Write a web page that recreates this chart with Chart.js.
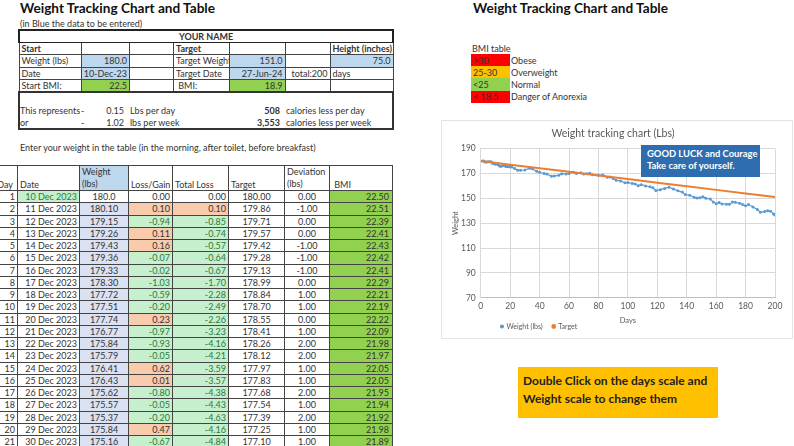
<!DOCTYPE html>
<html>
<head>
<meta charset="utf-8">
<script src="https://cdn.jsdelivr.net/npm/chart.js@4"></script>
<style>
  html, body { margin: 0; padding: 0; background: #fff; overflow: hidden; }
  body { width: 794px; height: 446px; position: relative; font-family: Lato, sans-serif; font-size: 9px; color: #333; filter: blur(0.3px); }
  .abs { position: absolute; white-space: nowrap; }
  .title { font-size: 13.6px; font-weight: 700; color: #111; }
  table { position: absolute; border-collapse: collapse; table-layout: fixed; font-size: 9px; }
  td { padding: 0 2px; border: 1px solid #444; overflow: hidden; white-space: nowrap; line-height: 11px; box-sizing: border-box; }
  .r { text-align: right; }
  .c { text-align: center; }
  .b { font-weight: 700; }
  .blue { background: #bdd7ee; }
  .lime { background: #92d050; }
  .pale { background: #d9e1f2; }
  .neg { background: #c6efce; color: #2b7a3b; }
  .pos { background: #f8cbad; }
  #chartBox { position: absolute; left: 441px; top: 120px; width: 352px; height: 219px; border: 1px solid #e4e4e4; box-sizing: border-box; }
  #note { position: absolute; left: 641px; top: 145px; width: 119px; height: 32px; background: #2e6eb0; color: #fff; font-weight: 700; font-size: 9.4px; line-height: 12.4px; padding: 3px 0 0 6px; box-sizing: border-box; white-space: nowrap; }
  #help { position: absolute; left: 518px; top: 367px; width: 200px; height: 51px; background: #ffc000; color: #222; font-weight: 700; font-size: 12px; line-height: 18px; padding: 5px 0 0 5px; box-sizing: border-box; white-space: nowrap; }
</style>
</head>
<body>
<div class="abs title" style="left:20px;top:0px">Weight Tracking Chart and Table</div>
<div class="abs" style="left:20px;top:18px">(in Blue the data to be entered)</div>

<table id="headTable" style="left:18px;top:29px;width:374px"></table>
<div class="abs" style="left:20px;top:105px">This represents</div>
<div class="abs" style="left:81px;top:105px">-</div>
<div class="abs r" style="left:100px;top:105px;width:24px">0.15</div>
<div class="abs" style="left:130px;top:105px">Lbs per day</div>
<div class="abs b" style="left:255px;top:105px;width:25px;text-align:right">508</div>
<div class="abs" style="left:286px;top:105px">calories less per day</div>
<div class="abs" style="left:20px;top:117px">or</div>
<div class="abs" style="left:81px;top:117px">-</div>
<div class="abs r" style="left:100px;top:117px;width:24px">1.02</div>
<div class="abs" style="left:130px;top:117px">lbs per week</div>
<div class="abs b" style="left:255px;top:117px;width:25px;text-align:right">3,553</div>
<div class="abs" style="left:286px;top:117px">calories less per week</div>
<div class="abs" style="left:20px;top:142px">Enter your weight in the table (in the morning, after toilet, before breakfast)</div>

<table id="dayTable" style="left:-22px;top:165px;width:414px"></table>

<div class="abs title" style="left:473px;top:0px">Weight Tracking Chart and Table</div>
<table id="bmiTable" style="left:471px;top:54px;width:140px"></table>
<div class="abs" style="left:472px;top:43px">BMI table</div>

<div id="chartBox"><canvas id="weightChart"></canvas></div>
<div id="note">GOOD LUCK and Courage<br>Take care of yourself.</div>
<div id="help">Double Click on the days scale and<br>Weight scale to change them</div>

<script>
  // table rows as read from the sheet
  const dayNumbers = [1,2,3,4,5,6,7,8,9,10,11,12,13,14,15,16,17,18,19,20,21];
  const dateLabels = ['10 Dec 2023','11 Dec 2023','12 Dec 2023','13 Dec 2023','14 Dec 2023','15 Dec 2023','16 Dec 2023','17 Dec 2023','18 Dec 2023','19 Dec 2023','20 Dec 2023','21 Dec 2023','22 Dec 2023','23 Dec 2023','24 Dec 2023','25 Dec 2023','26 Dec 2023','27 Dec 2023','28 Dec 2023','29 Dec 2023','30 Dec 2023'];
  const tableWeights = ['180.0','180.10','179.15','179.26','179.43','179.36','179.33','178.30','177.72','177.51','177.74','176.77','175.84','175.79','176.41','176.43','175.62','175.57','175.37','175.84','175.16'];
  const lossGain = ['0.00','0.10','-0.94','0.11','0.16','-0.07','-0.02','-1.03','-0.59','-0.20','0.23','-0.97','-0.93','-0.05','0.62','0.01','-0.80','-0.05','-0.20','0.47','-0.67'];
  const totalLoss = ['0.00','0.10','-0.85','-0.74','-0.57','-0.64','-0.67','-1.70','-2.28','-2.49','-2.26','-3.23','-4.16','-4.21','-3.59','-3.57','-4.38','-4.43','-4.63','-4.16','-4.84'];
  const tableTarget = ['180.00','179.86','179.71','179.57','179.42','179.28','179.13','178.99','178.84','178.70','178.55','178.41','178.26','178.12','177.97','177.83','177.68','177.54','177.39','177.25','177.10'];
  const deviation = ['0.00','-1.00','0.00','0.00','-1.00','-1.00','-1.00','0.00','1.00','1.00','0.00','1.00','2.00','2.00','1.00','1.00','2.00','1.00','2.00','1.00','1.00'];
  const bmiValues = ['22.50','22.51','22.39','22.41','22.43','22.42','22.41','22.29','22.21','22.19','22.22','22.09','21.98','21.97','22.05','22.05','21.95','21.94','21.92','21.98','21.89'];

  // chart series
  const weightDays = [1,2,3,4,5,6,7,8,9,10,11,12,13,14,15,16,17,18,19,20,21,23,25,27,30,33,35,38,40,43,45,48,50,53,55,58,60,63,65,68,70,72,74,76,80,83,86,88,90,92,95,98,100,103,105,107,109,112,115,117,119,122,125,128,131,134,137,139,142,145,147,149,151,153,156,158,160,162,164,167,169,171,173,176,178,180,182,185,188,190,193,195,197,199,200];
  const weightValues = [180.0,180.1,179.15,179.26,179.43,179.36,179.33,178.3,177.72,177.51,177.74,176.77,175.84,175.79,176.41,176.43,175.62,175.57,175.37,175.84,175.16,174,172.6,172.5,172.8,174.2,173.7,171.8,171,170,169.5,167.8,168,168.5,169.7,169.6,170,171,170,170.5,169.5,169.8,170.2,169,168.5,168.8,167,167.2,166,164.5,164,162.5,162.7,162,161.5,160.2,161,160,159.3,158.5,156.2,157,158,159,157.5,156,155,153,152.5,150.8,150.2,150.5,151.3,150,149.5,147,145.7,146.7,145.5,145.3,145.3,147,146.8,146,145,144,145,143,141,138.8,139.5,140,139.7,137.5,136.5];
  const targetDays = [0,20,40,60,80,100,120,140,160,180,200];
  const targetValues = [180,177.1,174.2,171.3,168.4,165.5,162.6,159.7,156.8,153.9,151];
  const xTicks = { min: 0, max: 200, step: 20 };
  const yTicks = { min: 70, max: 190, step: 20 };

  const headRows = [
    ['Start|b','','','Target|b','','','Height (inches)|b'],
    ['Weight (lbs)','180.0|r blue','','Target Weight','151.0|r blue','','75.0|r blue'],
    ['Date','10-Dec-23|r blue','','Target Date','27-Jun-24|r blue','total:200|r','days'],
    ['Start BMI:','22.5|r lime','','&nbsp;BMI:','18.9|r lime','','']
  ];
  const headWidths = [62,48.5,44,55.5,56,45,63];
  const bmiRows = [['>30','#ff0000','Obese'],['25-30','#ffc000','Overweight'],['<25','#92d050','Normal'],['< 18.5','#ff0000','Danger of Anorexia']];

  function cell(spec) {
    const [text, cls] = spec.split('|');
    return `<td class="${cls || ''}">${text}</td>`;
  }

  const headTable = document.getElementById('headTable');
  headTable.innerHTML = `
    <colgroup>${headWidths.map(w => `<col style="width:${w}px">`).join('')}</colgroup>
    <tr style="height:12.4px"><td colspan="7" class="c b" style="border-width:2px 2px 1px 2px;border-color:#222">YOUR NAME</td></tr>
    ${headRows.map(r => `<tr style="height:12.3px">${r.map(cell).join('')}</tr>`).join('')}
    <tr style="height:37.6px"><td colspan="7" style="border:2px solid #333"></td></tr>`;

  const dayTable = document.getElementById('dayTable');
  const dayWidths = [39,62,49,44,56,56,45,63];
  dayTable.innerHTML = `
    <colgroup>${dayWidths.map(w => `<col style="width:${w}px">`).join('')}</colgroup>
    <tr style="height:25px;vertical-align:bottom">
      <td class="r">Day&nbsp;</td><td>Date</td><td class="blue" style="line-height:12px">Weight<br>(lbs)</td><td>Loss/Gain</td><td>Total Loss</td><td>Target</td><td style="line-height:12px">Deviation<br>(lbs)</td><td>&nbsp;BMI</td>
    </tr>
    ${dayNumbers.map((d, i) => {
      const gainClass = v => parseFloat(v) < 0 ? 'neg' : (parseFloat(v) > 0 ? 'pos' : '');
      return `<tr style="height:12.25px">
        <td class="r">${d}</td>
        <td class="r ${i === 0 ? 'neg' : ''}">${dateLabels[i]}</td>
        <td class="c ${i === 0 ? '' : 'pale'}">${tableWeights[i]}</td>
        <td class="r ${gainClass(lossGain[i])}">${lossGain[i]}</td>
        <td class="r ${gainClass(totalLoss[i])}">${totalLoss[i]}</td>
        <td class="c">${tableTarget[i]}</td>
        <td class="c">${deviation[i]}</td>
        <td class="r lime" style="padding-right:3px">${bmiValues[i]}</td>
      </tr>`;
    }).join('')}`;

  const bmiTable = document.getElementById('bmiTable');
  bmiTable.innerHTML = `
    <colgroup><col style="width:39px"><col style="width:101px"></colgroup>
    ${bmiRows.map(r => `<tr style="height:12.2px"><td style="border:0;background:${r[1]}">${r[0].replace('<', '&lt;')}</td><td style="border:0;padding-left:1px">${r[2]}</td></tr>`).join('')}`;

  // the sheet's legend sits to the right of the chart's left edge
  const legendShift = {
    id: 'legendShift',
    afterLayout(chart) {
      chart.legend.left += 40;
      chart.legend.top += 2;
    }
  };

  new Chart(document.getElementById('weightChart'), {
    type: 'scatter',
    plugins: [legendShift],
    data: {
      datasets: [
        {
          label: 'Weight (lbs)',
          data: weightDays.map((d, i) => ({ x: d, y: weightValues[i] })),
          showLine: true,
          borderColor: '#5b9bd5',
          backgroundColor: '#5b9bd5',
          borderWidth: 1.2,
          pointRadius: 0.9,
          order: 2
        },
        {
          label: 'Target',
          data: targetDays.map((d, i) => ({ x: d, y: targetValues[i] })),
          showLine: true,
          borderColor: '#ed7d31',
          backgroundColor: '#ed7d31',
          borderWidth: 2,
          pointRadius: 0,
          order: 1
        }
      ]
    },
    options: {
      responsive: true,
      maintainAspectRatio: false,
      animation: false,
      layout: { padding: { left: 9, right: 17, top: 0, bottom: 0 } },
      plugins: {
        tooltip: { enabled: false },
        title: {
          display: true,
          text: 'Weight tracking chart (Lbs)',
          color: '#595959',
          font: { family: 'Lato', size: 10.5, weight: 'normal' },
          padding: { top: 6, bottom: 9 }
        },
        legend: {
          position: 'bottom',
          align: 'start',
          labels: {
            usePointStyle: true,
            pointStyle: 'circle',
            boxWidth: 2,
            boxHeight: 2,
            color: '#595959',
            font: { family: 'Lato', size: 7 },
            padding: 10,
            sort: (a, b) => a.datasetIndex - b.datasetIndex
          }
        }
      },
      scales: {
        x: {
          type: 'linear',
          min: xTicks.min,
          max: xTicks.max,
          ticks: { stepSize: xTicks.step, color: '#595959', maxRotation: 0, font: { family: 'Lato', size: 8.5 }, padding: 3 },
          grid: { color: '#d9d9d9', drawTicks: false },
          border: { color: '#bfbfbf' },
          title: { display: true, text: 'Days', color: '#595959', font: { family: 'Lato', size: 7.5 }, padding: { top: 2, bottom: -14 } }
        },
        y: {
          min: yTicks.min,
          max: yTicks.max,
          ticks: { stepSize: yTicks.step, color: '#595959', font: { family: 'Lato', size: 8.5 }, padding: 5 },
          grid: { color: '#d9d9d9', drawTicks: false },
          border: { color: '#d9d9d9' },
          title: { display: true, text: 'Weight', color: '#595959', font: { family: 'Lato', size: 7.5 }, padding: { top: 0, bottom: -4 } }
        }
      }
    }
  });
</script>
</body>
</html>
